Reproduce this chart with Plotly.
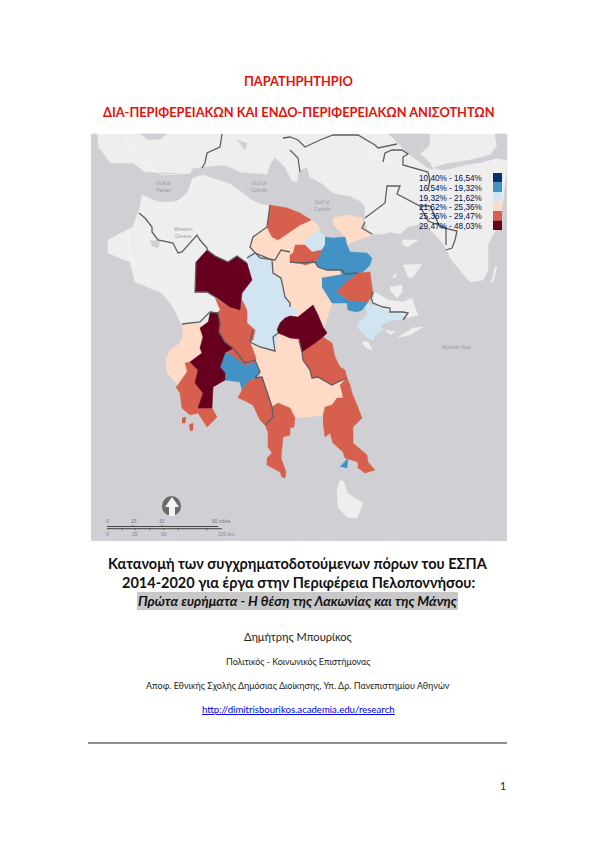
import plotly.graph_objects as go

# map colours, same order as the legend
class_colors = ['#08306b', '#4292c6', '#d1e5f0', '#fddbc7', '#d6604d', '#67001f']
class_labels = ['10,40% - 16,54%', '16,54% - 19,32%', '19,32% - 21,62%',
                '21,62% - 25,36%', '25,36% - 29,47%', '29,47% - 48,03%']
legend_y = [178, 188, 198, 207, 216.5, 226]
sea_color = '#d0d0d4'
land_color = '#eeeeef'
border_color = '#5f5f62'

# outlines, page pixels
mainland = [(91, 134), (97, 134), (507, 134), (507, 166), (503, 200), (497, 227), (488, 244), (488, 270), (483, 280),
            (470, 282), (450, 258), (447, 250), (440, 240), (433, 232), (420, 224), (408, 227), (400, 234), (390, 232),
            (383, 234), (375, 234), (368, 231), (365, 222), (365, 206), (360, 201), (350, 196), (337, 194), (330, 191),
            (323, 184), (310, 177), (307, 167), (298, 172), (297, 182), (292, 181), (285, 167), (275, 157), (270, 164),
            (267, 174), (240, 172), (230, 167), (223, 165), (193, 168), (190, 173), (145, 172), (133, 163), (110, 163),
            (98, 147), (97, 134)]
peloponnese_north = [(270, 206), (260, 204), (250, 199), (240, 191), (230, 184), (203, 175), (193, 178), (187, 193),
                     (177, 202), (158, 202), (142, 195), (140, 207), (133, 227), (108, 240), (108, 253), (130, 262),
                     (135, 282), (162, 293), (173, 307), (182, 325), (200, 330), (290, 300)]
sea_ne_1 = [(388, 134), (430, 134), (429, 146), (420, 154), (430, 163), (433, 170), (428, 168), (410, 155), (395, 140)]
sea_ne_2 = [(432, 168), (445, 170), (465, 165), (483, 162), (497, 158), (507, 160), (507, 134), (495, 134), (497, 146),
            (490, 155), (470, 160), (445, 164)]
sea_w = [(91, 134), (97, 134), (98, 147), (110, 163), (91, 163)]
lake_1 = [(140, 134), (167, 134), (160, 139), (148, 140)]
lake_2 = [(150, 241), (160, 240), (158, 248), (152, 246)]
lake_3 = [(237, 140), (247, 143), (245, 150), (242, 146)]

isle_1 = [(403, 265), (422, 264), (418, 270), (412, 278), (408, 277)]
isle_2 = [(390, 287), (402, 285), (402, 292), (397, 298), (390, 290)]
isle_3 = [(392, 277), (397, 273), (395, 278)]
isle_4 = [(402, 240), (418, 240), (408, 247), (403, 245)]
isle_5 = [(495, 267), (497, 267), (493, 282), (491, 282)]
isle_6 = [(385, 330), (395, 332), (390, 335)]
isle_7 = [(397, 338), (413, 328), (423, 327), (410, 335)]
isle_8 = [(362, 342), (368, 342), (372, 350), (365, 347)]
isle_9 = [(340, 480), (344, 482), (347, 493), (363, 503), (357, 518), (347, 517), (338, 507), (337, 490)]
methana = [(375, 292), (388, 300), (403, 302), (412, 298), (415, 308), (418, 315), (407, 318), (403, 315), (390, 312),
           (380, 307), (372, 302)]

peach_fill = [(252, 245), (290, 235), (322, 240), (345, 272), (332, 303), (320, 340), (345, 385), (325, 415), (295, 418),
              (268, 405), (255, 350), (260, 300)]
maroon_nw = [(196, 262), (207, 250), (215, 256), (228, 262), (237, 256), (247, 263), (252, 280), (242, 293), (240, 310),
             (230, 307), (217, 298), (207, 292), (195, 292)]
red_north = [(270, 205), (287, 208), (300, 213), (311, 220), (300, 225), (290, 232), (278, 240), (272, 237), (267, 227)]
peach_north = [(253, 237), (267, 227), (272, 237), (278, 240), (290, 232), (300, 225), (311, 220), (318, 225), (320, 230),
               (305, 242), (305, 246), (295, 246), (293, 253), (290, 260), (281, 250), (275, 260), (260, 258), (250, 247)]
red_mid = [(295, 245), (305, 245), (312, 252), (322, 250), (318, 258), (315, 262), (305, 265), (300, 263), (290, 262),
           (290, 255), (293, 253)]
blue_pale_mid = [(318, 230), (325, 237), (325, 245), (322, 250), (312, 252), (305, 245), (305, 240)]
blue_big = [(325, 237), (333, 238), (345, 237), (347, 245), (350, 252), (367, 253), (372, 258), (370, 265), (365, 270),
            (360, 274), (355, 276), (343, 276), (340, 270), (327, 270), (318, 267), (315, 262), (322, 250), (325, 245)]
peach_ne = [(333, 218), (347, 215), (362, 218), (364, 227), (372, 235), (363, 238), (350, 243), (347, 245), (345, 237),
            (333, 224)]
blue_south = [(322, 278), (345, 274), (358, 273), (343, 285), (337, 292), (348, 300), (368, 302), (362, 310), (357, 312),
              (348, 310), (347, 303), (332, 303), (322, 287)]
red_east = [(337, 292), (343, 285), (358, 273), (370, 272), (372, 287), (373, 293), (368, 302), (348, 300)]
blue_pale_se = [(365, 303), (380, 307), (390, 312), (403, 315), (403, 320), (393, 320), (380, 325), (383, 330), (375, 335),
                (373, 340), (368, 338), (358, 328), (358, 323), (367, 315)]
blue_pale_w = [(247, 255), (255, 253), (272, 260), (273, 273), (281, 278), (285, 297), (290, 307), (297, 310), (295, 316),
               (285, 318), (280, 323), (277, 330), (278, 333), (275, 351), (260, 347), (250, 342), (253, 330), (255, 330),
               (247, 323), (247, 310), (240, 310), (242, 293), (252, 280)]
peach_main = [(275, 260), (281, 250), (290, 250), (290, 262), (300, 263), (315, 262), (318, 267), (327, 270), (340, 270),
              (345, 274), (322, 278), (322, 287), (332, 303), (313, 305), (303, 313), (297, 310), (290, 307), (285, 297),
              (281, 278), (273, 273)]
maroon_east = [(277, 330), (280, 323), (285, 318), (290, 316), (298, 317), (303, 313), (313, 305), (318, 315), (323, 327),
               (327, 333), (323, 337), (315, 343), (302, 352), (299, 339), (290, 338), (283, 335), (278, 333)]
red_argolis = [(302, 352), (315, 343), (323, 337), (332, 343), (335, 357), (340, 367), (345, 370), (347, 378), (338, 382),
               (332, 385), (323, 380), (318, 377), (312, 378), (310, 370), (303, 360)]
peach_south = [(250, 342), (260, 347), (275, 351), (273, 337), (278, 333), (290, 335), (299, 339), (302, 352), (303, 360),
               (310, 370), (312, 378), (318, 377), (323, 380), (332, 385), (338, 382), (345, 385), (342, 392), (343, 398),
               (337, 398), (332, 405), (325, 407), (323, 416), (300, 415), (294, 418), (290, 408), (278, 403), (270, 405),
               (267, 390), (262, 377), (257, 368), (254, 356)]
red_laconia = [(323, 416), (325, 407), (332, 405), (337, 398), (343, 398), (342, 392), (340, 385), (347, 378), (350, 385),
               (352, 393), (357, 405), (362, 418), (353, 427), (353, 443), (367, 455), (368, 462), (375, 470), (365, 473),
               (358, 468), (358, 462), (345, 458), (343, 452), (333, 443), (330, 433), (325, 437), (323, 422)]
blue_tiny = [(340, 467), (345, 461), (348, 458), (347, 468), (343, 467)]
red_sw_gulf = [(238, 398), (242, 390), (250, 380), (262, 377), (267, 392), (272, 407), (273, 417), (265, 425), (260, 420),
               (253, 405), (247, 402)]
red_mani = [(265, 425), (273, 417), (272, 407), (278, 403), (290, 408), (295, 418), (294, 427), (290, 428), (290, 435),
            (283, 437), (281, 458), (286, 472), (285, 478), (282, 477), (280, 472), (267, 465), (267, 458), (272, 453),
            (268, 447), (268, 433)]
blue_center = [(220, 367), (225, 353), (233, 352), (245, 363), (255, 360), (260, 372), (255, 378), (250, 380), (242, 390),
               (240, 382), (225, 380), (225, 373)]
red_center = [(215, 298), (230, 307), (240, 310), (242, 300), (247, 310), (247, 323), (255, 330), (253, 340), (250, 342),
              (256, 358), (255, 362), (245, 365), (233, 356), (225, 350), (216, 333), (215, 315), (220, 310)]
maroon_west = [(210, 312), (218, 313), (220, 323), (219, 332), (225, 342), (233, 348), (225, 353), (220, 367), (225, 373),
               (225, 380), (213, 387), (212, 408), (198, 408), (203, 393), (195, 383), (198, 370), (190, 362), (202, 353),
               (200, 348), (203, 337), (200, 328), (208, 322)]
peach_west = [(182, 325), (200, 323), (203, 337), (200, 348), (202, 353), (190, 362), (185, 363), (187, 372), (178, 385),
              (173, 380), (167, 373), (166, 360), (170, 350), (180, 343), (183, 337)]
red_sw = [(185, 363), (190, 362), (198, 370), (195, 383), (203, 393), (198, 408), (212, 408), (217, 417), (207, 427),
          (198, 413), (190, 415), (182, 408), (180, 393), (176, 387), (178, 385), (187, 372)]
red_islet_1 = [(182, 418), (186, 417), (185, 423), (182, 423)]
red_islet_2 = [(189, 425), (193, 423), (193, 430), (190, 431)]

# drawing order, later ones sit on top
areas = [(mainland, land_color), (peloponnese_north, land_color), (sea_ne_1, sea_color), (sea_ne_2, sea_color),
         (sea_w, sea_color), (lake_1, sea_color), (lake_2, sea_color), (lake_3, sea_color),
         (isle_1, land_color), (isle_2, land_color), (isle_3, land_color), (isle_4, land_color), (isle_5, land_color),
         (isle_6, land_color), (isle_7, land_color), (isle_8, land_color), (isle_9, land_color), (methana, land_color),
         (peach_fill, class_colors[3]),
         (peach_main, class_colors[3]), (peach_north, class_colors[3]), (peach_ne, class_colors[3]),
         (peach_south, class_colors[3]), (peach_west, class_colors[3]),
         (blue_pale_w, class_colors[2]), (blue_pale_mid, class_colors[2]), (blue_pale_se, class_colors[2]),
         (blue_big, class_colors[1]), (blue_south, class_colors[1]), (blue_center, class_colors[1]),
         (blue_tiny, class_colors[1]),
         (red_north, class_colors[4]), (red_mid, class_colors[4]), (red_east, class_colors[4]),
         (red_argolis, class_colors[4]), (red_laconia, class_colors[4]), (red_sw_gulf, class_colors[4]),
         (red_mani, class_colors[4]), (red_center, class_colors[4]), (red_sw, class_colors[4]),
         (red_islet_1, class_colors[4]), (red_islet_2, class_colors[4]),
         (maroon_nw, class_colors[5]), (maroon_east, class_colors[5]), (maroon_west, class_colors[5])]

roads = [
    [(123, 137), (147, 167), (163, 175), (190, 173)],
    [(128, 230), (130, 257), (147, 280), (170, 293)],
    [(140, 213), (190, 197), (193, 180)],
    [(370, 147), (375, 157), (407, 169), (430, 172)],
]

borders = [
    [(222, 134), (220, 147), (207, 153), (205, 163), (202, 168)],
    [(139, 213), (145, 218), (152, 227), (152, 232), (158, 240), (173, 243), (178, 253), (182, 252), (197, 235), (200, 240),
     (207, 248), (207, 250), (215, 256), (228, 262), (237, 256), (247, 263)],
    [(196, 262), (195, 292), (207, 292), (217, 298)],
    [(182, 324), (200, 322), (210, 312), (218, 313), (220, 323), (219, 332), (225, 342), (233, 348), (245, 363), (255, 360),
     (260, 372), (255, 378), (262, 377), (267, 392), (272, 407), (273, 417), (265, 425)],
    [(270, 205), (267, 227), (253, 237), (250, 247), (260, 258), (275, 260), (281, 250), (290, 252)],
    [(247, 258), (255, 253), (272, 260), (273, 273), (281, 278), (285, 297), (290, 303), (290, 307)],
    [(253, 330), (250, 342), (260, 347), (275, 351), (273, 337), (278, 333)],
    [(299, 340), (302, 352), (303, 360), (310, 370), (312, 378), (318, 377), (323, 380), (332, 385), (338, 382), (347, 378)],
    [(290, 262), (300, 263), (315, 262), (318, 267), (327, 270), (342, 270), (345, 274), (358, 273)],
    [(373, 292), (371, 298), (373, 303), (383, 307), (390, 308), (390, 312), (403, 312), (408, 313), (403, 320)],
    [(283, 138), (290, 137), (298, 140), (305, 147), (320, 140), (333, 135), (358, 135), (375, 145), (378, 148), (397, 144)],
    [(290, 150), (298, 158), (300, 172)],
    [(383, 162), (385, 153), (392, 150), (402, 150), (408, 154), (403, 157), (403, 165), (428, 172), (430, 180), (428, 190)],
    [(365, 218), (385, 203), (387, 186), (400, 186), (397, 194), (413, 202), (420, 206), (430, 206), (437, 220), (440, 227),
     (457, 231), (455, 240), (452, 248), (446, 250)],
    [(420, 206), (428, 221), (446, 228), (446, 245)],
    [(365, 222), (362, 228), (372, 234)],
]

scale_upper = [(107, 526.5), (218, 526.5)]
scale_lower = [(107, 528.7), (222, 528.7)]
scale_miles_ticks = [133, 162]
scale_km_ticks = [122, 135, 150, 164, 178, 207]
scale_miles = ['0', '15', '30', '60 miles']
scale_miles_x = [107, 134, 162, 221]
scale_km = ['0', '25', '50', '100 km']
scale_km_x = [107, 135, 164, 226]
map_notes = ['Gulf of<br>Patras', 'Gulf of<br>Corinth', 'Western<br>Greece', 'Gulf of<br>Corinth', 'Myrtoan Sea']
map_notes_x = [163, 259, 183, 322, 456]
map_notes_y = [186, 186, 232, 205, 347]

page_font = 'Lato, Carlito, Noto Sans'
page_text = [
    ('ΠΑΡΑΤΗΡΗΤΗΡΙΟ', 298.5, 81, 12.8, '#e3120b', True, False),
    ('ΔΙΑ-ΠΕΡΙΦΕΡΕΙΑΚΩΝ ΚΑΙ ΕΝΔΟ-ΠΕΡΙΦΕΡΕΙΑΚΩΝ ΑΝΙΣΟΤΗΤΩΝ', 299, 112, 12.8, '#e3120b', True, False),
    ('Κατανομή των συγχρηματοδοτούμενων πόρων του ΕΣΠΑ', 297.5, 563, 14.5, '#111111', True, False),
    ('2014-2020 για έργα στην Περιφέρεια Πελοποννήσου:', 298, 582, 14.5, '#111111', True, False),
    ('Πρώτα ευρήματα - Η θέση της Λακωνίας και της Μάνης', 297.5, 601, 13.6, '#111111', True, True),
    ('Δημήτρης Μπουρίκος', 298, 636, 11.1, '#222222', False, False),
    ('Πολιτικός - Κοινωνικός Επιστήμονας', 298, 661, 8.9, '#222222', False, False),
    ('Αποφ. Εθνικής Σχολής Δημόσιας Διοίκησης, Υπ. Δρ. Πανεπιστημίου Αθηνών', 298, 685, 9, '#222222', False, False),
    ('<u>http://dimitrisbourikos.academia.edu/research</u>', 298, 709, 9.6, '#0000ee', False, False),
    ('1', 503, 786, 10.5, '#222222', False, False),
]

fig = go.Figure()

for area, color in areas:
    fig.add_trace(go.Scatter(x=[p[0] for p in area], y=[p[1] for p in area], mode='lines', fill='toself',
                             fillcolor=color, line=dict(color=color, width=0.5), hoverinfo='skip'))

for road in roads:
    fig.add_trace(go.Scatter(x=[p[0] for p in road], y=[p[1] for p in road], mode='lines',
                             line=dict(color='#fbfbfb', width=0.7), hoverinfo='skip'))

for border in borders:
    fig.add_trace(go.Scatter(x=[p[0] for p in border], y=[p[1] for p in border], mode='lines',
                             line=dict(color=border_color, width=1.3), hoverinfo='skip'))

for scale_line in [scale_upper, scale_lower]:
    fig.add_trace(go.Scatter(x=[p[0] for p in scale_line], y=[p[1] for p in scale_line], mode='lines',
                             line=dict(color='#444444', width=1), hoverinfo='skip'))

shapes = [
    dict(type='rect', x0=91, x1=507, y0=134, y1=541, fillcolor=sea_color, line_width=0, layer='below'),
    dict(type='rect', x0=137, x1=458, y0=592, y1=610, fillcolor='#c8c8c8', line_width=0, layer='below'),
    dict(type='line', x0=88, x1=507, y0=743, y1=743, line=dict(color='#222222', width=1)),
    dict(type='circle', x0=162, x1=181, y0=496, y1=516, fillcolor='#6a6a6c', line_width=0),
    dict(type='path', path='M 172 497 L 165 507 L 169 507 L 169 516 L 175 516 L 175 507 L 179 507 Z',
         fillcolor='#f4f4f4', line_width=0),
]
for i, color in enumerate(class_colors):
    shapes.append(dict(type='rect', x0=493, x1=502, y0=173 + i * 9.5, y1=182.5 + i * 9.5, fillcolor=color, line_width=0))
for x in scale_miles_ticks:
    shapes.append(dict(type='line', x0=x, x1=x, y0=525, y1=526.5, line=dict(color='#444444', width=0.8)))
for x in scale_km_ticks:
    shapes.append(dict(type='line', x0=x, x1=x, y0=528.7, y1=530.2, line=dict(color='#444444', width=0.8)))

annotations = []
for text, x, y, size, color, bold, italic in page_text:
    label = '<b>' + text + '</b>' if bold else text
    label = '<i>' + label + '</i>' if italic else label
    annotations.append(dict(x=x, y=y, text=label, showarrow=False, font=dict(family=page_font, size=size, color=color)))
for label, y in zip(class_labels, legend_y):
    annotations.append(dict(x=484, y=y, text=label, xanchor='right', showarrow=False,
                            font=dict(family='Liberation Sans', size=8.2, color='#00104a')))
for label, x, y in zip(map_notes, map_notes_x, map_notes_y):
    annotations.append(dict(x=x, y=y, text=label, showarrow=False, font=dict(family='Liberation Sans', size=5, color='#9a9a9e')))
for label, x in zip(scale_miles, scale_miles_x):
    annotations.append(dict(x=x, y=520.5, text=label, showarrow=False, font=dict(family='Liberation Sans', size=5, color='#777777')))
for label, x in zip(scale_km, scale_km_x):
    annotations.append(dict(x=x, y=534, text=label, showarrow=False, font=dict(family='Liberation Sans', size=5, color='#7a8a9a')))

fig.update_layout(width=595, height=842, margin=dict(l=0, r=0, t=0, b=0), showlegend=False,
                  paper_bgcolor='white', plot_bgcolor='white', shapes=shapes, annotations=annotations)
fig.update_xaxes(range=[0, 595], visible=False, fixedrange=True)
fig.update_yaxes(range=[842, 0], visible=False, fixedrange=True)

fig.write_html("out.html", config=dict(displayModeBar=False),
               post_script="document.body.style.margin='0';document.body.style.overflow='hidden';")
